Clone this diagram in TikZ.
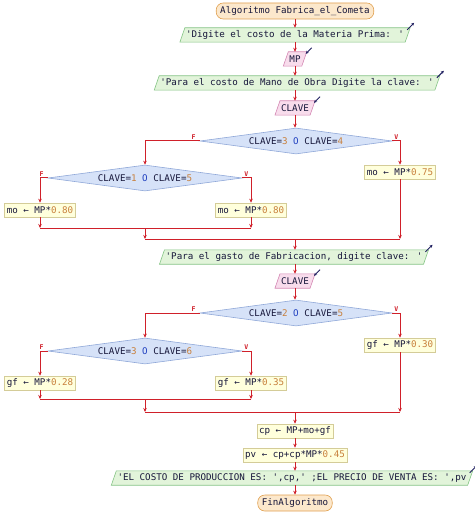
\documentclass[tikz,border=0pt]{standalone}
\usepackage{fontspec}
\newfontfamily\pmono{DejaVu Sans Mono}
\usetikzlibrary{shapes.geometric,arrows.meta,calc}
\pgfdeclarelayer{background}
\pgfsetlayers{background,main}
\definecolor{linec}{HTML}{D0202A}
\definecolor{txt}{HTML}{16163A}
\definecolor{numc}{HTML}{C8803C}
\definecolor{opc}{HTML}{2040C0}
\definecolor{termf}{HTML}{FCE8CC}
\definecolor{termb}{HTML}{E0A050}
\definecolor{outf}{HTML}{E2F4DA}
\definecolor{outb}{HTML}{84C484}
\definecolor{inf}{HTML}{F8DCEC}
\definecolor{inb}{HTML}{D488B4}
\definecolor{procf}{HTML}{FFFFDC}
\definecolor{procb}{HTML}{D4CC98}
\definecolor{decf}{HTML}{D6E2F8}
\definecolor{decb}{HTML}{90A8D8}
\definecolor{iconc}{HTML}{202060}
\newcommand{\nm}[1]{\textcolor{numc}{#1}}
\newcommand{\opr}[1]{\textcolor{opc}{#1}}
\newcommand{\paral}[3]{%
  \begin{pgfonlayer}{background}
  \draw[draw=#3, fill=#2, line width=0.6pt] (#1.south west) -- ($(#1.north west)+(5,0)$) -- (#1.north east) -- ($(#1.south east)+(-5,0)$) -- cycle;
  \end{pgfonlayer}}
\tikzset{
  base/.style={font=\pmono\fontsize{9.2}{10}\selectfont, text=txt, inner sep=0pt},
  term/.style={base, draw=termb, fill=termf, rounded corners=7pt, minimum height=16pt, inner xsep=4pt, line width=0.6pt},
  iobox/.style={base, minimum height=14pt, inner xsep=6pt},
  proc/.style={base, draw=procb, fill=procf, minimum height=14pt, inner xsep=2pt, line width=0.6pt},
  dec/.style={base, diamond, draw=decb, fill=decf, minimum width=192pt, minimum height=26pt, aspect=7.4, line width=0.6pt},
  flow/.style={draw=linec, line width=1pt},
  arr/.style={flow, -{Stealth[length=4pt,width=3.5pt]}},
  lab/.style={text=linec, font=\pmono\fontsize{6.5}{7}\selectfont\bfseries, inner sep=0pt},
  icon/.style={draw=iconc, line width=0.9pt, -{Stealth[length=3pt,width=3pt]}}
}
\begin{document}
\begin{tikzpicture}[x=1pt,y=-1pt]
\useasboundingbox (0,0) rectangle (474,526);
% nodes
\node[term] (start) at (295,11) {Algoritmo Fabrica\_el\_Cometa};
\node[iobox] (out1) at (295,35) {'Digite el costo de la Materia Prima: '};
\node[iobox] (in1) at (295,59) {MP};
\node[iobox] (out2) at (297,83) {'Para el costo de Mano de Obra Digite la clave: '};
\node[iobox] (in2) at (295,108) {CLAVE};
\node[dec] (d1) at (296,141) {CLAVE=\nm{3} \opr{O} CLAVE=\nm{4}};
\node[proc] (m75) at (400,172) {mo ← MP*\nm{0.75}};
\node[dec, minimum width=194pt] (d2) at (145,178) {CLAVE=\nm{1} \opr{O} CLAVE=\nm{5}};
\node[proc] (a80) at (40,210) {mo ← MP*\nm{0.80}};
\node[proc] (b80) at (251,210) {mo ← MP*\nm{0.80}};
\node[iobox] (out3) at (294,257) {'Para el gasto de Fabricacion, digite clave: '};
\node[iobox] (in3) at (295,281) {CLAVE};
\node[dec] (d3) at (296,313) {CLAVE=\nm{2} \opr{O} CLAVE=\nm{5}};
\node[proc] (g30) at (400,345) {gf ← MP*\nm{0.30}};
\node[dec, minimum width=194pt] (d4) at (145,351) {CLAVE=\nm{3} \opr{O} CLAVE=\nm{6}};
\node[proc] (g28) at (40,383) {gf ← MP*\nm{0.28}};
\node[proc] (g35) at (251,383) {gf ← MP*\nm{0.35}};
\node[proc] (cp) at (295,431) {cp ← MP+mo+gf};
\node[proc] (pv) at (295,455) {pv ← cp+cp*MP*\nm{0.45}};
\node[iobox] (out4) at (292,478) {'EL COSTO DE PRODUCCION ES: ',cp,' ;EL PRECIO DE VENTA ES: ',pv};
\node[term] (fin) at (295,503) {FinAlgoritmo};
% parallelogram outlines
\foreach \n in {out1,out2,out3,out4}{\paral{\n}{outf}{outb}}
\foreach \n in {in1,in2,in3}{\paral{\n}{inf}{inb}}
% icons
\foreach \n in {out1,out2,out3,out4}{
  \draw[icon] ($(\n.north east)+(-3,2)$) -- ($(\n.north east)+(4,-5)$);
}
\foreach \n in {in1,in2,in3}{
  \draw[icon] ($(\n.north east)+(5,-4)$) -- ($(\n.north east)+(-1,2)$);
}
% main flow
\draw[arr] (start) -- (out1);
\draw[arr] (out1) -- (in1);
\draw[arr] (in1) -- (out2.north -| in1);
\draw[arr] (out2.south -| in1) -- (in2);
\draw[arr] (in2) -- (d1.north -| in2);
% block 1
\draw[arr] (d1.west) -| (d2.north);
\draw[arr] (d1.east) -| (m75.north);
\draw[arr] (d2.west) -| (a80.north);
\draw[arr] (d2.east) -| (b80.north);
\node[lab] (f1) at ($(d1.west)+(-6,-4)$) {F};
\node[lab] (v1) at ($(d1.east)+(4,-4)$) {V};
\node[lab] (f2) at ($(d2.west)+(-6,-4)$) {F};
\node[lab] (v2) at ($(d2.east)+(4,-4)$) {V};
\coordinate (j1) at (145,228);
\coordinate (k1) at (145,239);
\draw[arr] (a80.south) -- (a80.south |- j1);
\draw[arr] (b80.south) -- (b80.south |- j1);
\draw[flow] (a80.south |- j1) -- (b80.south |- j1);
\draw[arr] (j1) -- (k1);
\draw[arr] (m75.south) -- (m75.south |- k1);
\draw[flow] (k1) -- (m75.south |- k1);
\draw[arr] (k1 -| in2) -- (out3.north -| in2);
\draw[arr] (out3.south -| in3) -- (in3);
\draw[arr] (in3) -- (d3.north -| in3);
% block 2
\draw[arr] (d3.west) -| (d4.north);
\draw[arr] (d3.east) -| (g30.north);
\draw[arr] (d4.west) -| (g28.north);
\draw[arr] (d4.east) -| (g35.north);
\node[lab] (f3) at ($(d3.west)+(-6,-4)$) {F};
\node[lab] (v3) at ($(d3.east)+(4,-4)$) {V};
\node[lab] (f4) at ($(d4.west)+(-6,-4)$) {F};
\node[lab] (v4) at ($(d4.east)+(4,-4)$) {V};
\coordinate (j2) at (145,399);
\coordinate (k2) at (145,412);
\draw[arr] (g28.south) -- (g28.south |- j2);
\draw[arr] (g35.south) -- (g35.south |- j2);
\draw[flow] (g28.south |- j2) -- (g35.south |- j2);
\draw[arr] (j2) -- (k2);
\draw[arr] (g30.south) -- (g30.south |- k2);
\draw[flow] (k2) -- (g30.south |- k2);
\draw[arr] (k2 -| cp) -- (cp);
\draw[arr] (cp) -- (pv);
\draw[arr] (pv) -- (out4.north -| pv);
\draw[arr] (out4.south -| fin) -- (fin);
\end{tikzpicture}
\end{document}
